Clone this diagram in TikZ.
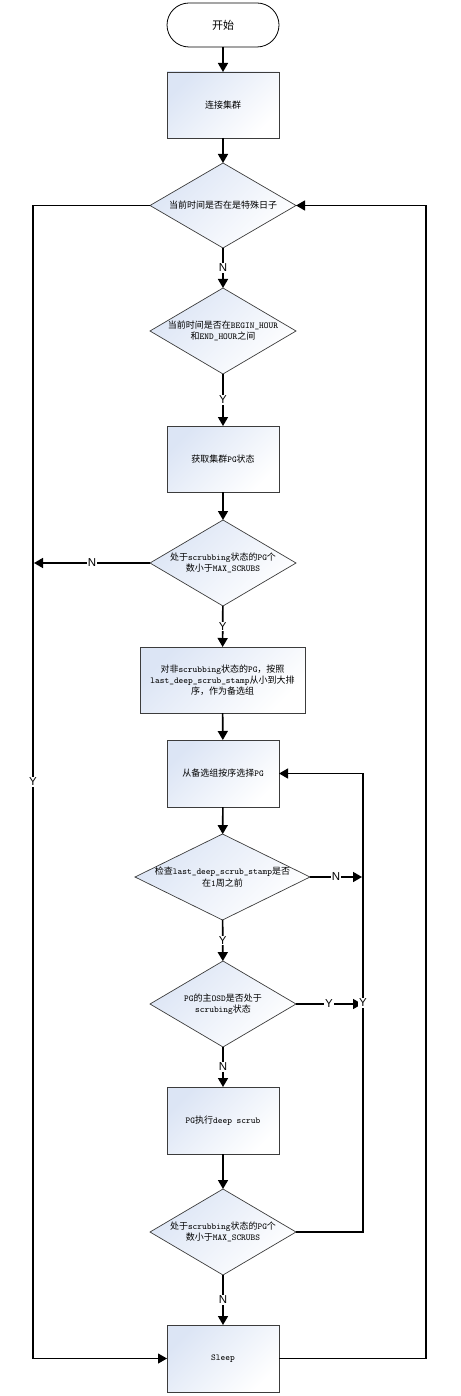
\documentclass[tikz,border=0pt]{standalone}
\usepackage{fontspec}
\setmainfont{Noto Sans CJK SC}
\newfontfamily\labfont{Liberation Sans}
\usetikzlibrary{shapes.geometric,arrows.meta}
\definecolor{bl}{RGB}{220,229,245}
\definecolor{bd}{RGB}{60,60,60}
\newcommand\tl[1]{{\ttfamily #1}}
\begin{document}
\begin{tikzpicture}[x=1pt,y=-1pt,
  box/.style={draw=bd, line width=0.8pt, top color=bl, bottom color=white, shading angle=45,
    minimum width=112pt, minimum height=66pt, inner sep=0pt, outer sep=0pt},
  dia/.style={diamond, draw=bd, line width=0.7pt, top color=bl, bottom color=white, shading angle=45,
    minimum width=146pt, minimum height=86pt, inner sep=0pt, outer sep=0pt},
  txt/.style={font=\fontsize{9}{11.3}\selectfont, align=center, inner sep=0pt},
  yn/.style={font=\labfont\fontsize{11.5}{11.5}\selectfont, fill=white, inner sep=0.8pt},
  conn/.style={line width=1.6pt, -{Triangle[length=9pt,width=10pt]}},
  lpa/.style={line width=1.2pt, -{Triangle[length=9pt,width=10pt]}}]
\useasboundingbox (0,0) rectangle (460,1396);

% nodes
\node[draw=black, line width=0.8pt, fill=white, rounded corners=22pt, minimum width=112pt, minimum height=44pt,
  inner sep=0pt, outer sep=0pt, font=\fontsize{11}{11}\selectfont] (start) at (223,25) {开始};
\node[box] (b1) at (223,105) {};
\node[txt] (b1t) at (223,105) {连接集群};
\node[dia, minimum height=85pt] (d1) at (223,205.5) {};
\node[txt] (d1t) at (223,205.5) {当前时间是否在是特殊日子};
\node[dia] (d2) at (223,331) {};
\node[txt] (d2t) at (223,331) {当前时间是否在\tl{BEGIN\_HOUR}\\和\tl{END\_HOUR}之间};
\node[box] (b2) at (223,459) {};
\node[txt] (b2t) at (223,459) {获取集群\tl{PG}状态};
\node[dia] (d3) at (223,563) {};
\node[txt] (d3t) at (223,563) {处于\tl{scrubbing}状态的\tl{PG}个\\数小于\tl{MAX\_SCRUBS}};
\node[box, minimum width=165pt] (b3) at (222.5,680) {};
\node[txt] (b3t) at (222.5,680) {对非\tl{scrubbing}状态的\tl{PG}，按照\\\tl{last\_deep\_scrub\_stamp}从小到大排\\序，作为备选组};
\node[box, minimum height=67pt] (b4) at (223,773.5) {};
\node[txt] (b4t) at (223,773.5) {从备选组按序选择\tl{PG}};
\node[dia, minimum width=175pt] (d5) at (222.5,877) {};
\node[txt] (d5t) at (222.5,877) {检查\tl{last\_deep\_scrub\_stamp}是否\\在\tl{1}周之前};
\node[dia] (d6) at (223,1004) {};
\node[txt] (d6t) at (223,1004) {\tl{PG}的主\tl{OSD}是否处于\\\tl{scrubing}状态};
\node[box, minimum height=67pt] (b5) at (223,1120.5) {};
\node[txt] (b5t) at (223,1120.5) {\tl{PG}执行\tl{deep scrub}};
\node[dia] (d7) at (223,1232) {};
\node[txt] (d7t) at (223,1232) {处于\tl{scrubbing}状态的\tl{PG}个\\数小于\tl{MAX\_SCRUBS}};
\node[box, minimum height=67pt] (sl) at (223,1358.5) {};
\node[txt] (slt) at (223,1358.5) {\tl{Sleep}};

% coordinates
\coordinate (L1) at (33,205.5);
\coordinate (L2) at (33,1358.5);
\coordinate (R1) at (426,1358.5);
\coordinate (R2) at (426,205.5);
\coordinate (n3) at (34,563);
\coordinate (c4) at (363,773.5);
\coordinate (c5) at (362,877);
\coordinate (c6) at (362,1004);
\coordinate (c7) at (363,1232);

% connectors
\draw[conn] (start) -- (b1);
\draw[conn] (b1) -- (d1);
\draw[conn] (d1) -- node[yn]{N} (d2);
\draw[conn] (d2) -- node[yn]{Y} (b2);
\draw[conn] (b2) -- (d3);
\draw[conn] (d3.west) -- node[yn]{N} (n3);
\draw[conn] (d3) -- node[yn]{Y} (b3);
\draw[conn] (b3) -- (b4);
\draw[conn] (b4) -- (d5);
\draw[conn] (d5.east) -- node[yn]{N} (c5);
\draw[conn] (d5) -- node[yn]{Y} (d6);
\draw[conn] (d6.east) -- node[yn]{Y} (c6);
\draw[conn] (d6) -- node[yn]{N} (b5);
\draw[conn] (b5) -- (d7);
\draw[conn] (d7) -- node[yn]{N} (sl);
\draw[lpa] (d7.east) -- (c7) -- node[yn]{Y} (c4) -- (b4.east);
\draw[lpa] (d1.west) -- (L1) -- node[yn]{Y} (L2) -- (sl.west);
\draw[lpa] (sl.east) -- (R1) -- (R2) -- (d1.east);
\end{tikzpicture}
\end{document}
